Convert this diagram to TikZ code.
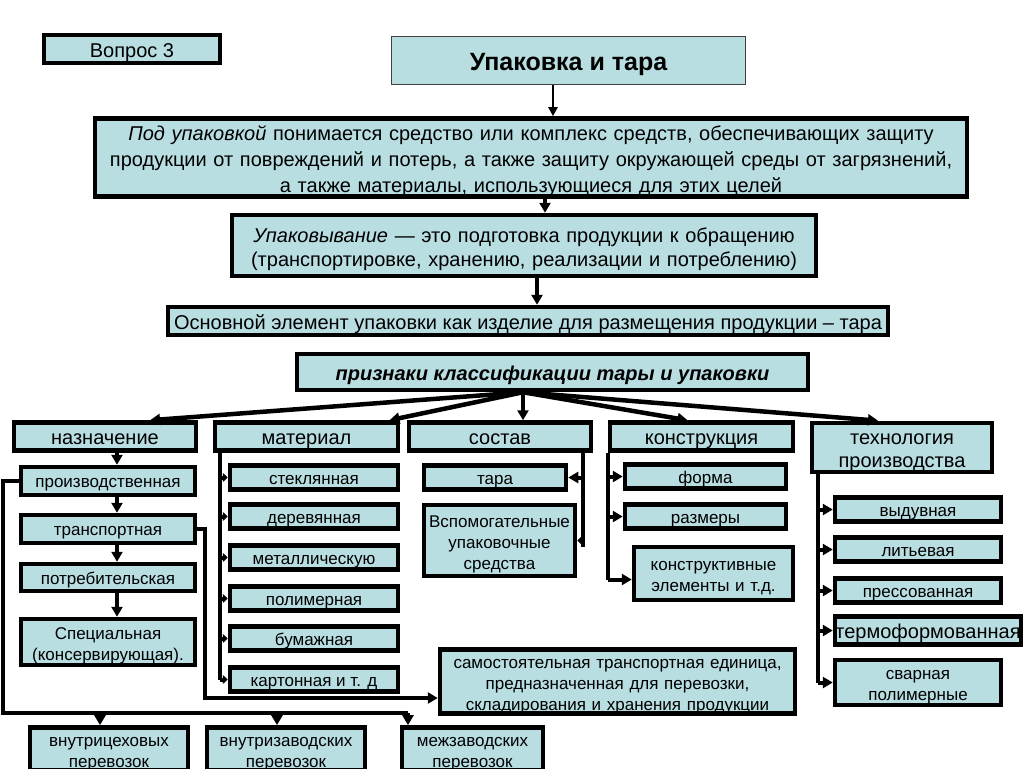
\documentclass[tikz,border=0pt]{standalone}
\usepackage{fontspec}
\setmainfont{Liberation Sans}
\usetikzlibrary{arrows.meta}
\usetikzlibrary{calc}
\definecolor{boxfill}{RGB}{185,222,226}

\begin{document}
\begin{tikzpicture}[x=1pt,y=-1pt,
  box/.style={draw=black, line width=4.5pt, fill=boxfill, inner sep=0pt, align=center,
    execute at begin node={\rule[-0.3em]{0pt}{1.4em}}},
  multi/.style={text width=#1},
  cat/.style={box, font=\fontsize{20}{23}\selectfont},
  item/.style={box, font=\fontsize{17}{21}\selectfont},
  lnk/.style={line width=4pt},
  arr/.style={line width=4pt, -{Triangle[length=10pt,width=11pt]}},
  tick/.style={line width=4pt, -{Triangle[length=5pt,width=9pt]}}]

\useasboundingbox (0,0) rectangle (1024,768);
\clip (0,0) rectangle (1024,768);

% Top part
\node[box, line width=4pt, minimum width=176, minimum height=23, font=\fontsize{20}{22}\selectfont] (q3) at (132,49) {Вопрос 3};
\node[box, draw=darkgray, line width=1pt, minimum width=354, minimum height=48, font=\bfseries\fontsize{25}{29}\selectfont] (title) at (568.5,60.5) {Упаковка и тара};
\node[box, multi=872, minimum height=75, font=\fontsize{20}{26}\selectfont] (def) at (531,157.5)
  {\textit{Под упаковкой} понимается средство или комплекс средств, обеспечивающих защиту\\
   продукции от повреждений и потерь, а также защиту окружающей среды от загрязнений,\\
   а также материалы, использующиеся для этих целей};
\node[box, multi=584, minimum height=61, font=\fontsize{20}{24}\selectfont] (upak) at (524,245.5)
  {\textit{Упаковывание} — это подготовка продукции к обращению\\
   (транспортировке, хранению, реализации и потреблению)};
\node[box, minimum width=720, minimum height=28, font=\fontsize{20}{23}\selectfont] (osn) at (528,321)
  {Основной элемент упаковки как изделие для размещения продукции – тара};
\node[box, minimum width=511, minimum height=36, font=\bfseries\itshape\fontsize{20}{23}\selectfont] (prizn) at (552.5,372)
  {признаки классификации тары и упаковки};

\coordinate (ax1) at (553,0);
\coordinate (ax2) at (545,0);
\coordinate (ax3) at (537,0);
\draw[line width=2.5pt, -{Triangle[length=9pt,width=9pt]}] (title.south -| ax1) -- (def.north -| ax1);
\draw[arr] (def.south -| ax2) -- (upak.north -| ax2);
\draw[arr] (upak.south -| ax3) -- (osn.north -| ax3);

% Categories
\node[cat, minimum width=182, minimum height=19] (naz) at (105,436.5) {назначение};
\node[cat, minimum width=183, minimum height=19] (mat) at (306.5,436.5) {материал};
\node[cat, minimum width=182, minimum height=19] (sost) at (500,436.5) {состав};
\node[cat, minimum width=183, minimum height=19] (konstr) at (701.5,436.5) {конструкция};
\node[cat, multi=180, minimum height=45] (tech) at (902,447.5) {технология\\производства};

\coordinate (fan) at (523,0);
\foreach \t/\dx in {naz/45, mat/83, sost/23, konstr/-14, tech/-24}
  \draw[arr, line width=4.5pt] (prizn.south -| fan) -- ($(\t.north)+(\dx,0)$);

% назначение
\node[item, minimum width=174, minimum height=28] (proizv) at (108,481) {производственная};
\node[item, minimum width=174, minimum height=28] (transp) at (108,529) {транспортная};
\node[item, minimum width=174, minimum height=27] (potreb) at (108,577.5) {потребительская};
\node[item, multi=174, minimum height=46] (spec) at (108,642) {Специальная\\(консервирующая).};

\coordinate (colA) at (117,0);
\foreach \a/\b in {naz/proizv, proizv/transp, transp/potreb, potreb/spec}
  \draw[arr] (\a.south -| colA) -- (\b.north -| colA);

% перевозки
\node[item, multi=158, minimum height=42] (vnc) at (109,749) {внутрицеховых\\перевозок};
\node[item, multi=158, minimum height=42] (vnz) at (286,749) {внутризаводских\\перевозок};
\node[item, multi=141, minimum height=42] (mez) at (472.5,749) {межзаводских\\перевозок};

\coordinate (loopL) at (3,713);
\coordinate (loopR) at (408,713);
\draw[lnk] (proizv.west) -| (loopL) -- (loopR);
\foreach \b/\xx in {vnc/100, vnz/277, mez/408}{
  \coordinate (drop) at (\xx,713);
  \draw[arr] (drop) -- (\b.north -| drop);
}

\node[item, multi=355, minimum height=63] (samost) at (617.5,681.5)
  {самостоятельная транспортная единица,\\предназначенная для перевозки,\\складирования и хранения продукции};
\coordinate (bendT) at (205,698);
\draw[arr] (transp.east) -| (bendT) -- (samost.west |- bendT);

% материал
\node[item, minimum width=168, minimum height=21] (stekl) at (314,477.5) {стеклянная};
\node[item, minimum width=168, minimum height=23] (derev) at (314,516.5) {деревянная};
\node[item, minimum width=168, minimum height=21] (metal) at (314,557.5) {металлическую};
\node[item, minimum width=168, minimum height=21] (polim) at (314,598.5) {полимерная};
\node[item, minimum width=168, minimum height=21] (bumazh) at (314,638.5) {бумажная};
\node[item, minimum width=168, minimum height=21] (karton) at (314,679.5) {картонная и т. д};

\coordinate (matL) at (220,0);
\draw[lnk] (mat.south -| matL) -- (karton.west -| matL);
\foreach \i in {stekl, derev, metal, polim, bumazh, karton}
  \draw[tick] (\i.west -| matL) -- (\i.west);

% состав
\node[item, minimum width=142, minimum height=21] (tara) at (495,477.5) {тара};
\node[item, multi=151, minimum height=71] (vspom) at (499.5,540.5) {Вспомогательные\\упаковочные\\средства};

\coordinate (sosR) at (583,0);
\draw[lnk] ($(sost.south -| sosR)+(0,-1)$) -- ($(vspom.east -| sosR)+(0,6)$);
\draw[arr] (tara.east -| sosR) -- (tara.east);
\draw[tick] (vspom.east -| sosR) -- (vspom.east);

% конструкция
\node[item, minimum width=161, minimum height=23] (forma) at (705.5,476.5) {форма};
\node[item, minimum width=161, minimum height=23] (razm) at (705.5,516.5) {размеры};
\node[item, multi=159, minimum height=53] (konstel) at (713.5,573.5) {конструктивные\\элементы и т.д.};

\coordinate (konL) at (608,0);
\draw[lnk] (konstr.south -| konL) -- ($(konstel.west -| konL)+(0,6)$);
\foreach \i in {forma, razm}
  \draw[arr] (\i.west -| konL) -- (\i.west);
\draw[arr] ($(konstel.west -| konL)+(0,6)$) -- ($(konstel.west)+(0,6)$);

% технология
\node[item, minimum width=166, minimum height=21] (vydu) at (918,509.5) {выдувная};
\node[item, minimum width=166, minimum height=21] (litev) at (918,549.5) {литьевая};
\node[item, minimum width=166, minimum height=21] (press) at (918,590.5) {прессованная};
\node[box, minimum width=186, minimum height=21, font=\fontsize{20}{22}\selectfont] (termo) at (928,630.5) {термоформованная};
\node[item, multi=166, minimum height=45] (svar) at (918,682.5) {сварная\\полимерные};

\coordinate (tecL) at (818,0);
\draw[lnk] (tech.south -| tecL) -- (svar.west -| tecL);
\foreach \i in {vydu, litev, press, termo, svar}
  \draw[arr] (\i.west -| tecL) -- (\i.west);

\end{tikzpicture}
\end{document}
